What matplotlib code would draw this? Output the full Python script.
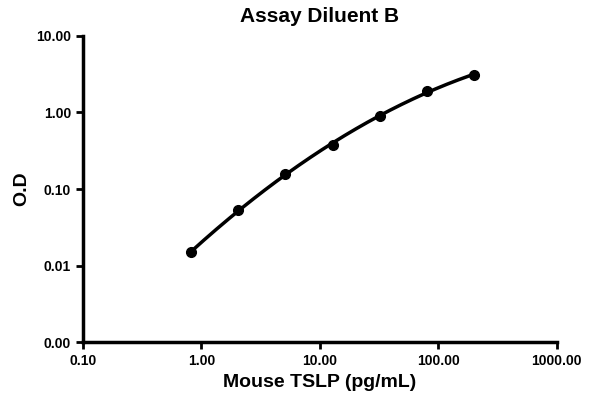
import numpy as np
import matplotlib
matplotlib.use("Agg")
import matplotlib.pyplot as plt
from matplotlib.ticker import FixedLocator, FuncFormatter, NullLocator

plt.rcParams['font.family'] = ['Liberation Sans', 'DejaVu Sans']

conc = [0.82, 2.05, 5.12, 12.8, 32.0, 80.0, 200.0]
od = [0.015, 0.053, 0.157, 0.376, 0.90, 1.91, 3.09]
xticks = [0.1, 1, 10, 100, 1000]
yticks = [0.001, 0.01, 0.1, 1, 10]

fig = plt.figure(figsize=(6.0, 4.03), dpi=100)
ax = fig.add_axes([0.138, 0.151, 0.79, 0.76])

lx, ly = np.log10(conc), np.log10(od)
c = np.polyfit(lx, ly, 3)
xs = np.linspace(lx[0], lx[-1], 200)
ax.plot(10**xs, 10**np.polyval(c, xs), color='black', lw=2.5)
ax.plot(conc, od, 'o', color='black', ms=7)

ax.set_xscale('log'); ax.set_yscale('log')
ax.set_xlim(0.1, 1000); ax.set_ylim(0.001, 10)
ax.xaxis.set_major_locator(FixedLocator(xticks))
ax.yaxis.set_major_locator(FixedLocator(yticks))
ax.xaxis.set_minor_locator(NullLocator()); ax.yaxis.set_minor_locator(NullLocator())
fmt = FuncFormatter(lambda v, p: f"{v:.2f}")
ax.xaxis.set_major_formatter(fmt); ax.yaxis.set_major_formatter(fmt)
for s in ['top', 'right']:
    ax.spines[s].set_visible(False)
for s in ['left', 'bottom']:
    ax.spines[s].set_linewidth(2.5)
ax.tick_params(width=2, length=5, labelsize=10)
for t in ax.get_xticklabels() + ax.get_yticklabels():
    t.set_fontweight('bold')
ax.set_xlabel('Mouse TSLP (pg/mL)', fontsize=14, fontweight='bold')
ax.set_ylabel('O.D', fontsize=14, fontweight='bold')
ax.set_title('Assay Diluent B', fontsize=15, fontweight='bold', pad=10)
fig.savefig('out.png', dpi=100)
